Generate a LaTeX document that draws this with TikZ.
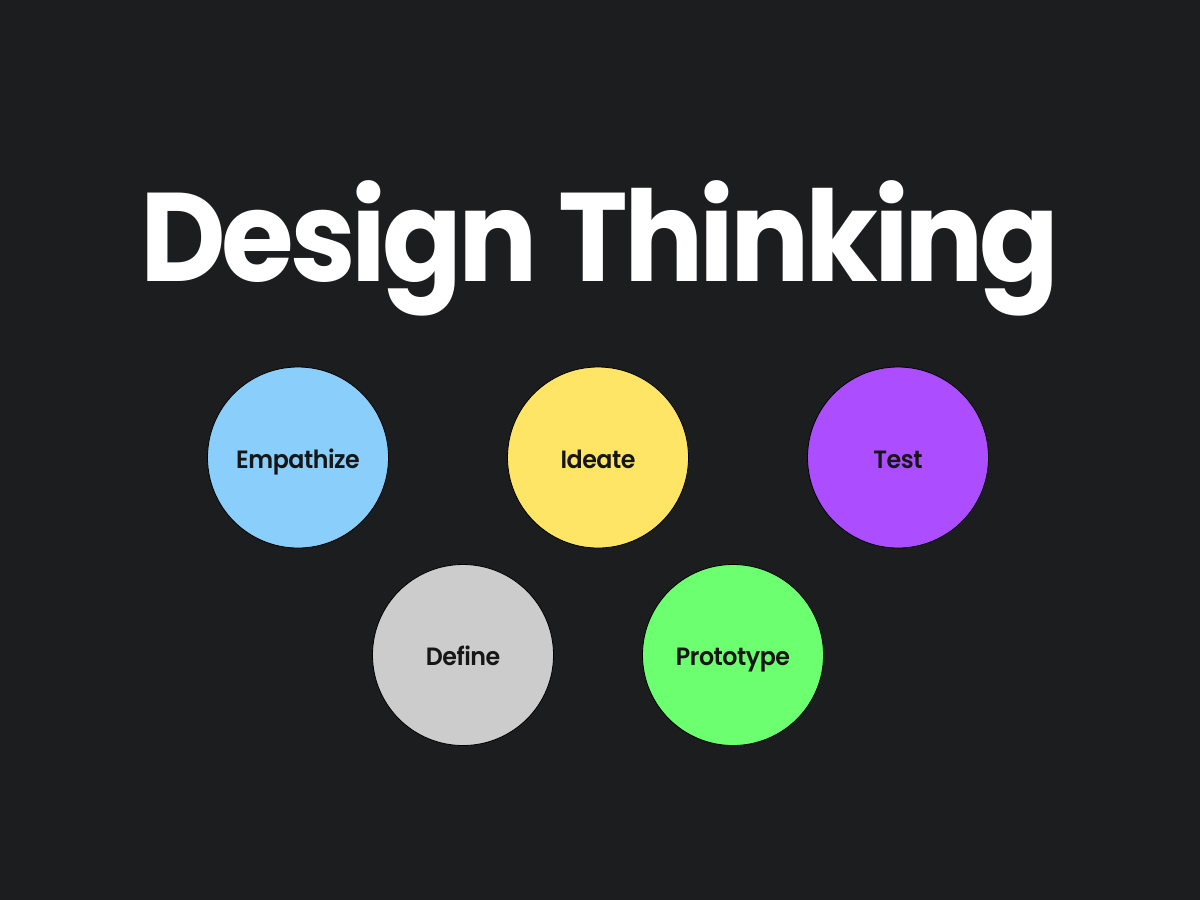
\documentclass[tikz,border=0pt]{standalone}
\usepackage{fontspec}
\setmainfont{Poppins}[BoldFont={Poppins Bold}, BoldFeatures={LetterSpace=-3.5}]
\newfontfamily\labelfont{Poppins SemiBold}[LetterSpace=-2]
\definecolor{bg}{HTML}{1C1D1F}
\definecolor{cEmp}{HTML}{8ACEFB}
\definecolor{cIde}{HTML}{FFE566}
\definecolor{cTes}{HTML}{AC4EFF}
\definecolor{cDef}{HTML}{CCCCCC}
\definecolor{cPro}{HTML}{6CFF70}
\definecolor{ink}{HTML}{161616}
\begin{document}
\begin{tikzpicture}[x=1pt,y=-1pt,
  stage/.style={circle, draw=black, line width=0.8pt, minimum size=181pt, inner sep=0pt,
    text height=21pt, text depth=0pt,
    font=\labelfont\fontsize{25}{25}\selectfont, text=ink},
  title/.style={font=\bfseries\fontsize{126}{126}\selectfont, text=white, anchor=base}]
\fill[bg] (0,0) rectangle (1200,900);
\useasboundingbox (0,0) rectangle (1200,900);
\node[title] (t) at (600,281) {\scalebox{0.935}[1]{Design Thinking}};
\node[stage, fill=cEmp] (emp) at (298,457.5) {\scalebox{0.95}[1]{Empathize}};
\node[stage, fill=cIde] (ide) at (598,457.5) {\scalebox{0.95}[1]{Ideate}};
\node[stage, fill=cTes] (tes) at (898,457.5) {\scalebox{0.95}[1]{Test}};
\node[stage, fill=cDef] (def) at (463,655) {\scalebox{0.95}[1]{Define}};
\node[stage, fill=cPro] (pro) at (733,655) {\scalebox{0.95}[1]{Prototype}};
\end{tikzpicture}
\end{document}
